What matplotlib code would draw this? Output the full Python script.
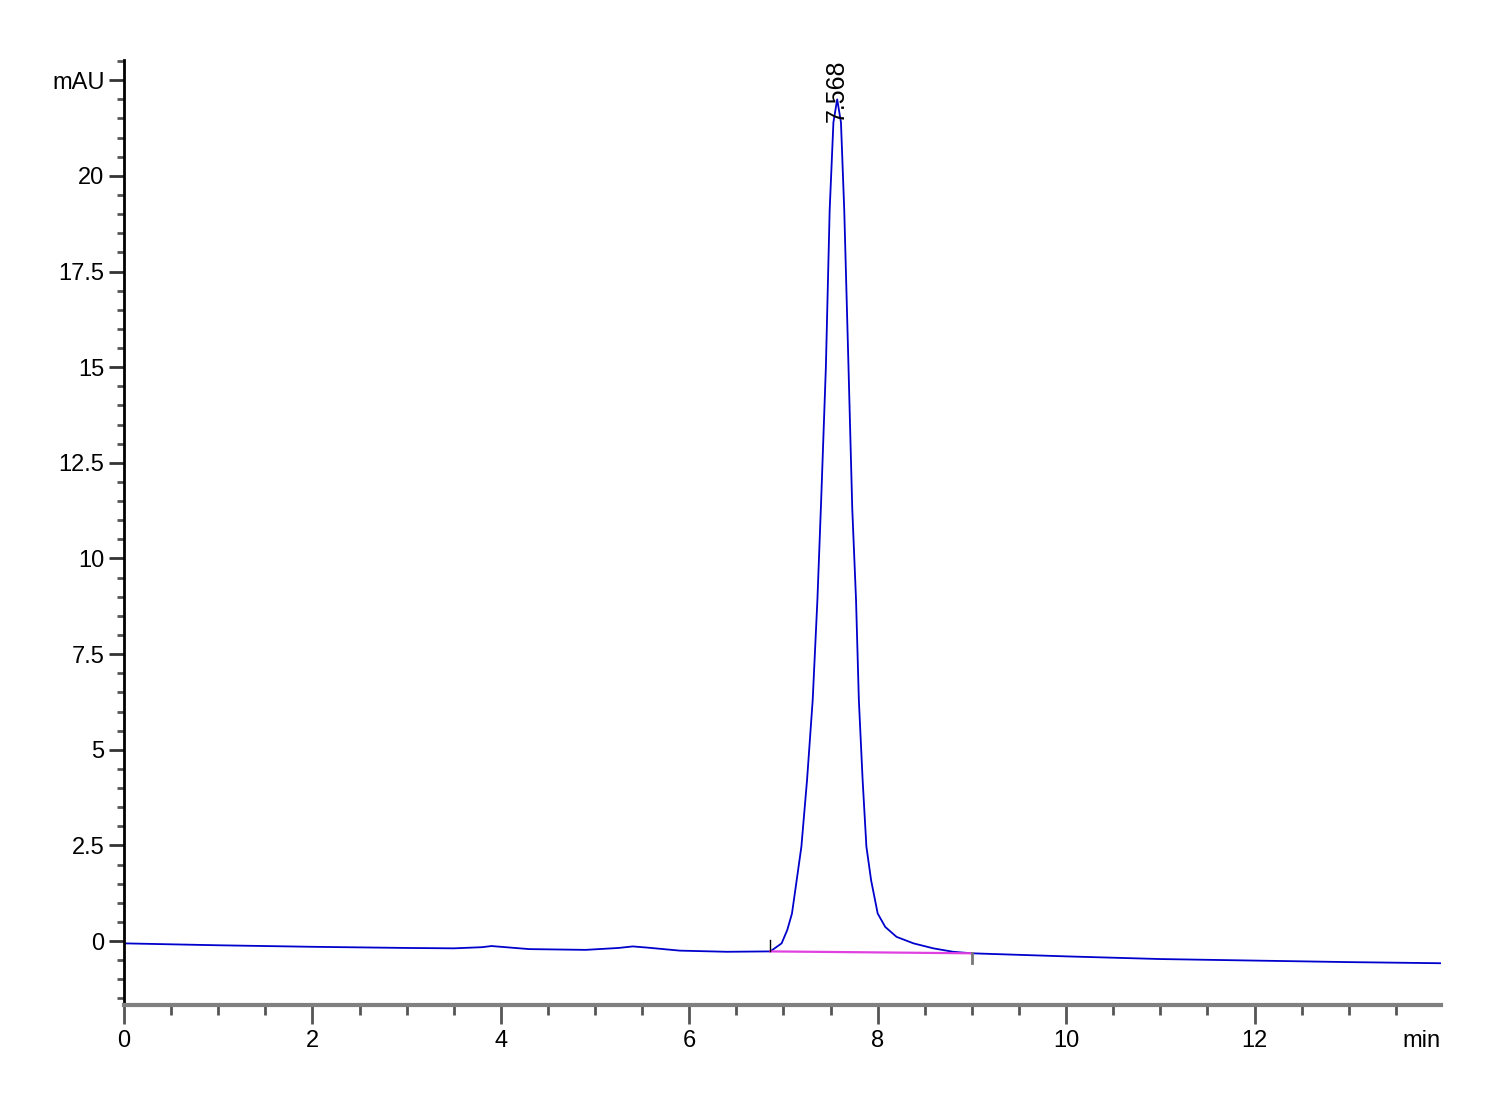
import numpy as np
import matplotlib.pyplot as plt
from matplotlib.ticker import MultipleLocator, FixedLocator

# Chromatogram trace (time in min, signal in mAU)
time = [0.0, 1.0, 2.0, 3.0, 3.5, 3.8, 3.9, 4.0, 4.3, 4.9, 5.25, 5.4, 5.55,
        5.9, 6.4, 6.86, 6.98, 7.04, 7.09, 7.14, 7.19, 7.22, 7.25, 7.31,
        7.36, 7.40, 7.45, 7.49, 7.53, 7.57, 7.61, 7.645, 7.69, 7.73, 7.77,
        7.80, 7.84, 7.86, 7.88, 7.93, 8.00, 8.08, 8.20, 8.38, 8.59, 8.80,
        9.0, 9.5, 10.0, 11.0, 12.0, 13.0, 14.0]
signal = [-0.06, -0.11, -0.15, -0.18, -0.19, -0.16, -0.13, -0.15, -0.21,
          -0.23, -0.18, -0.14, -0.17, -0.25, -0.28, -0.27, -0.06, 0.29, 0.72,
          1.59, 2.47, 3.34, 4.21, 6.30, 8.92, 11.53, 15.01, 19.1, 21.4, 22.0,
          21.4, 19.1, 15.01, 11.3, 8.92, 6.30, 4.21, 3.34, 2.47, 1.59, 0.72,
          0.37, 0.11, -0.06, -0.19, -0.28, -0.32, -0.36, -0.40, -0.47, -0.51,
          -0.55, -0.58]

# Integration baseline and peak label
base_t = [6.86, 9.0]
base_y = [-0.27, -0.32]
peak_rt = 7.568

plt.rcParams['font.family'] = ['Liberation Sans', 'DejaVu Sans']

fig = plt.figure(figsize=(15, 11), dpi=100)
ax = fig.add_axes([0.0827, 0.0864, 0.878, 0.8591])

ax.plot(time, signal, color='#0000cc', lw=1.3)
ax.plot(base_t, base_y, color='#e040e0', lw=1.6)
# start / end markers of the integration
ax.plot([base_t[0], base_t[0]], [base_y[0], base_y[0] + 0.3], color='black', lw=1)
ax.plot([base_t[1], base_t[1]], [base_y[1], base_y[1] - 0.25], color='#777777', lw=2)

ax.text(peak_rt, 21.4, f"{peak_rt:.3f}", rotation=90, ha='center', va='bottom',
        fontsize=18)

ax.set_xlim(0, 13.98)
ax.set_ylim(-1.67, 23.03)

for s in ['top', 'right']:
    ax.spines[s].set_visible(False)
ax.spines['left'].set_linewidth(2)
ax.spines['left'].set_color('black')
ax.spines['bottom'].set_linewidth(3)
ax.spines['bottom'].set_color('#808080')

yticks = [0, 2.5, 5, 7.5, 10, 12.5, 15, 17.5, 20, 22.5]
ylabels = ['0', '2.5', '5', '7.5', '10', '12.5', '15', '17.5', '20', 'mAU']
ax.yaxis.set_major_locator(FixedLocator(yticks))
ax.set_yticklabels(ylabels)
ax.yaxis.set_minor_locator(MultipleLocator(0.5))

xticks = [0, 2, 4, 6, 8, 10, 12]
ax.xaxis.set_major_locator(FixedLocator(xticks))
ax.set_xticklabels([str(x) for x in xticks])
ax.xaxis.set_minor_locator(MultipleLocator(0.5))

ax.tick_params(axis='y', which='major', length=11, width=2, color='#333333',
               labelsize=17, pad=3)
ax.tick_params(axis='y', which='minor', length=5, width=2, color='#555555')
ax.tick_params(axis='x', which='major', length=14, width=2, color='#555555',
               labelsize=17, pad=4)
ax.tick_params(axis='x', which='minor', length=7, width=2, color='#555555')

ax.text(13.98, -2.6, 'min', ha='right', va='center', fontsize=17)

fig.savefig('out.png', dpi=100)
